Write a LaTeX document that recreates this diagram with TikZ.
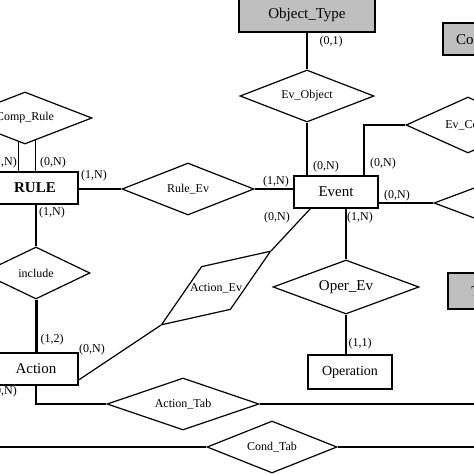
\documentclass[tikz,border=0pt]{standalone}
\usepackage{fontspec}
\setmainfont{Liberation Serif}
\usetikzlibrary{shapes.geometric}
\usetikzlibrary{calc}

\tikzset{
  entity/.style={draw, line width=1.2pt, minimum width=84pt, minimum height=32pt,
    inner sep=0pt, font=\fontsize{15}{18}\selectfont},
  grayentity/.style={entity, fill=gray!50},
  relation/.style={draw, diamond, aspect=3, inner sep=0pt, line width=1.2pt,
    font=\fontsize{12}{14}\selectfont},
  card/.style={inner sep=0pt, font=\fontsize{12}{14}\selectfont},
  link/.style={line width=1.2pt},
}

\begin{document}
\begin{tikzpicture}[x=1pt,y=-1pt]
    \clip (0,0) rectangle (474,474);
    % entities
    \node[entity, minimum width=86pt, font=\fontsize{15}{18}\selectfont\bfseries] (rule) at (35,188) {RULE};
    \node[entity] (event) at (336,192) {Event};
    \node[entity] (action) at (36,369) {Action};
    \node[entity, minimum height=34pt, font=\fontsize{14}{17}\selectfont] (operation) at (350,372) {Operation};
    \node[grayentity, minimum width=136pt, minimum height=34pt] (objtype) at (307,15) {Object\_Type};
    \node[grayentity, minimum width=86pt] (condition) at (486,39) {Condition};
    \node[grayentity, minimum width=80pt, minimum height=36pt] (table) at (488,291) {Table};
    % relationships
    \node[relation, minimum width=134pt, minimum height=52pt] (comprule) at (25,118) {Comp\_Rule};
    \node[relation, minimum width=132pt, minimum height=52pt] (ruleev) at (188,189) {Rule\_Ev};
    \node[relation, minimum width=134pt, minimum height=52pt] (evobject) at (307,96) {Ev\_Object};
    \node[relation, minimum width=124pt, minimum height=56pt] (evcond) at (468,125) {Ev\_Cond};
    \node[relation, minimum width=138pt, minimum height=52pt] (evright) at (503,203) {};
    \node[relation, minimum width=108pt, minimum height=52pt] (include) at (36,273) {include};
    \node[relation, minimum width=146pt, minimum height=54pt, font=\fontsize{15}{18}\selectfont] (operev) at (346,287) {Oper\_Ev};
    \node[relation, minimum width=132pt, minimum height=52pt, rotate=34] (actev) at (216,288) {};
    \node[font=\fontsize{12}{14}\selectfont] (actevtext) at (actev.center) {Action\_Ev};
    \node[relation, minimum width=152pt, minimum height=52pt] (actiontab) at (183,404) {Action\_Tab};
    \node[relation, minimum width=130pt, minimum height=52pt] (condtab) at (272,447) {Cond\_Tab};
    % links
    \coordinate (crleft) at ($(comprule.south)!0.1!(comprule.west)$);
    \coordinate (crright) at ($(comprule.south)!0.16!(comprule.east)$);
    \draw[link] (crleft) -- (crleft |- rule.north);
    \draw[link] (crright) -- (crright |- rule.north);
    \draw[link] (rule.east |- ruleev.west) -- (ruleev.west);
    \draw[link] (ruleev.east) -- (ruleev.east -| event.west);
    \draw[link] (objtype.south) -- (evobject.north);
    \draw[link] (evobject.south) -- (evobject.south |- event.north);
    \draw[link] (evcond.west) -| ([xshift=28pt]event.north);
    \draw[link] (evright.west) -- (evright.west -| event.east);
    \draw[link] (operev.north) -- (operev.north |- event.south);
    \draw[link] (operev.south) -- (operev.south |- operation.north);
    \draw[link] (include.north) -- (include.north |- rule.south);
    \draw[link, line width=3pt] (include.south) -- (include.south |- action.north);
    \draw[link] ([yshift=-11pt]action.east) -- (actev.west);
    \draw[link] (actev.east) -- ([xshift=17pt]event.south west);
    \draw[link] (action.south) |- (actiontab.west);
    \coordinate (tabend) at (480,404);
    \draw[link] (actiontab.east) -- (tabend);
    \coordinate (condleft) at (-6,447);
    \coordinate (condright) at (480,447);
    \draw[link] (condleft) -- (condtab.west);
    \draw[link] (condtab.east) -- (condright);
    % cardinalities
    \node[card] (c1) at (4,163) {(1,N)};
    \node[card] (c2) at (53,163) {(0,N)};
    \node[card] (c3) at (94,176) {(1,N)};
    \node[card] (c4) at (52,213) {(1,N)};
    \node[card] (c5) at (52,340) {(1,2)};
    \node[card] (c6) at (92,350) {(0,N)};
    \node[card] (c7) at (4,392) {(0,N)};
    \node[card] (c8) at (276,182) {(1,N)};
    \node[card] (c9) at (326,167) {(0,N)};
    \node[card] (c10) at (383,164) {(0,N)};
    \node[card] (c11) at (397,196) {(0,N)};
    \node[card] (c12) at (360,218) {(1,N)};
    \node[card] (c13) at (277,218) {(0,N)};
    \node[card] (c14) at (331,42) {(0,1)};
    \node[card] (c15) at (360,344) {(1,1)};
\end{tikzpicture}
\end{document}
